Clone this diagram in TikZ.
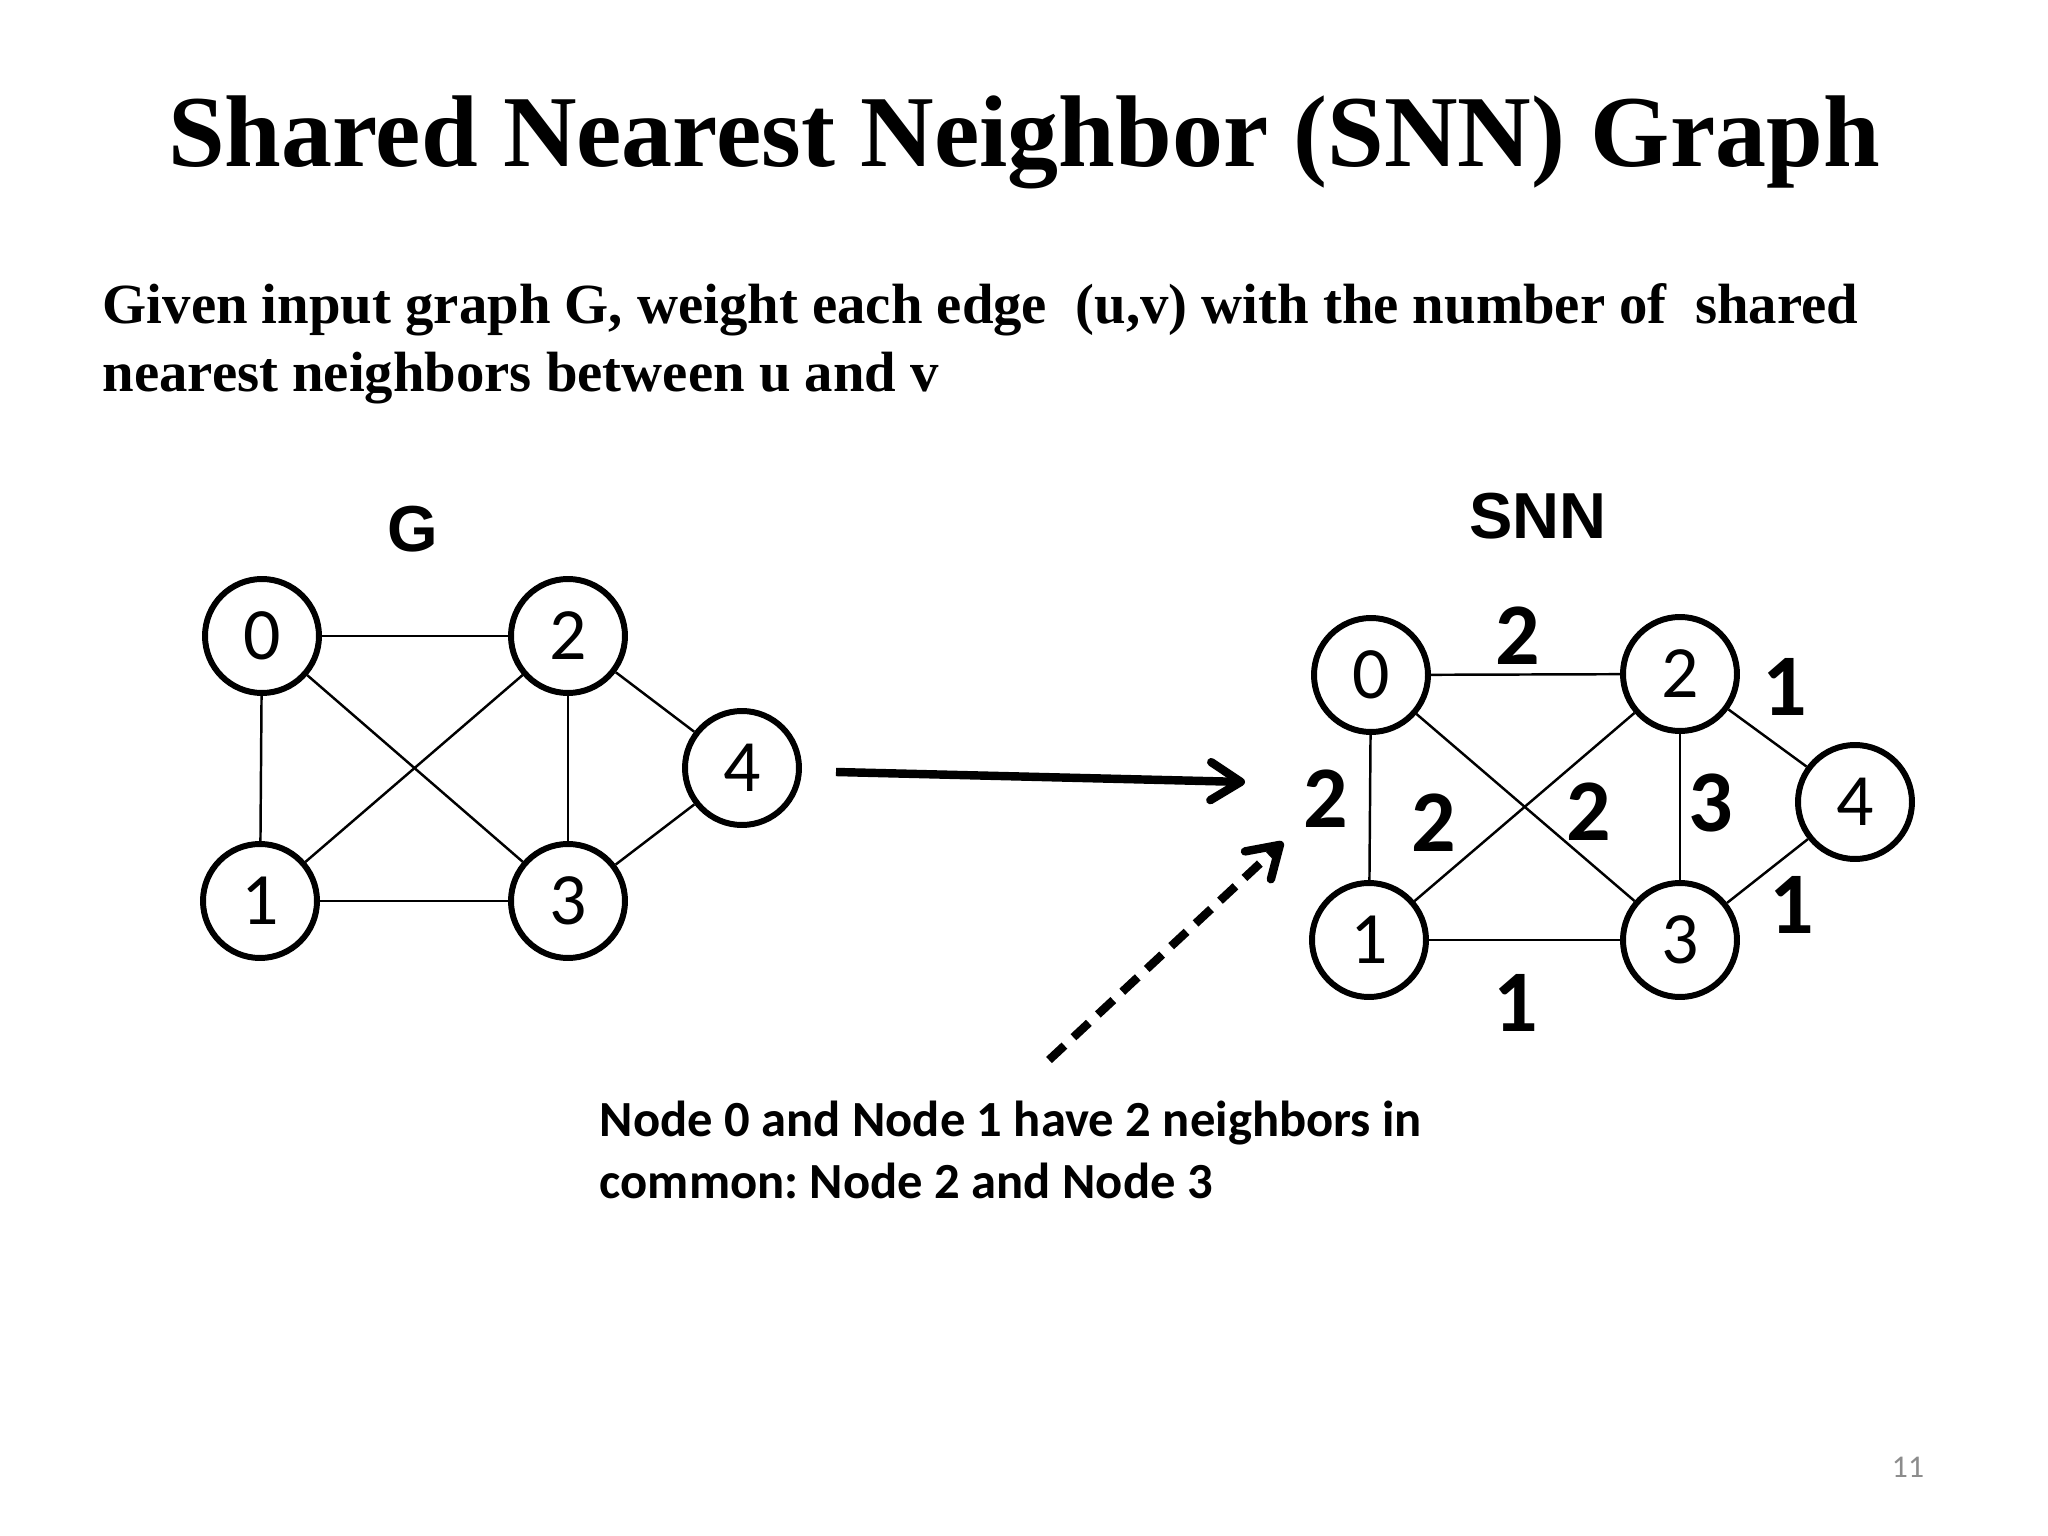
\documentclass[tikz,border=0pt]{standalone}
\usepackage{fontspec}
\setmainfont{Liberation Serif}
\newfontfamily\calibrifont{Carlito}
\newfontfamily\arialfont{Liberation Sans}
\usetikzlibrary{arrows.meta}
\frenchspacing

\begin{document}
\begin{tikzpicture}[x=1cm, y=1cm,
  vertex/.style={circle, draw, line width=1.7pt, minimum size=1.14cm, inner sep=0pt,
    font=\calibrifont\fontsize{21}{25}\selectfont},
  edge/.style={line width=0.7pt},
  weight/.style={inner sep=0pt, font=\calibrifont\bfseries\fontsize{25}{30}\selectfont},
  graphname/.style={inner sep=0pt, font=\arialfont\bfseries\fontsize{18.5}{22}\selectfont},
  bigarrow/.style={line width=2.4pt, -{Straight Barb[length=3mm, width=3.8mm, round]}}
]
  % slide 2048 x 1536 px -> 20.48 x 15.36 cm, origin top left
  \fill[white] (0,0) rectangle (20.48,-15.36);
  \useasboundingbox (0,0) rectangle (20.48,-15.36);

  % ---------------- title and statement ----------------
  \node[anchor=base, inner sep=0pt, font=\bfseries\fontsize{29}{35}\selectfont] (title)
    at (10.24,-1.67) {Shared Nearest Neighbor (SNN) Graph};
  \node[anchor=base west, align=left, inner sep=0pt,
    font=\bfseries\fontsize{16.15}{19.6}\selectfont] (intro) at (1.02,-3.92)
    {Given input graph G, weight each edge~ (u,v) with the number of~ shared\\
     nearest neighbors between u and v};

  % ---------------- input graph G ----------------
  \node[graphname] (nameG) at (4.13,-5.29) {G};
  \foreach \n/\x/\y in {0/2.62/-6.36, 2/5.68/-6.36, 4/7.42/-7.68, 1/2.60/-9.01, 3/5.68/-9.01} {
    \node[vertex] (g\n) at (\x,\y) {\n};
  }
  \foreach \a/\b in {0/2, 0/1, 0/3, 1/2, 2/3, 1/3, 2/4, 3/4} {
    \draw[edge] (g\a) -- (g\b);
  }

  % ---------------- SNN graph ----------------
  \node[graphname] (nameSNN) at (15.38,-5.16) {SNN};
  \foreach \n/\x/\y in {0/13.71/-6.75, 2/16.80/-6.74, 4/18.55/-8.02, 1/13.69/-9.40, 3/16.80/-9.40} {
    \node[vertex] (s\n) at (\x,\y) {\n};
  }
  \foreach \a/\b in {0/2, 0/1, 0/3, 1/2, 2/3, 1/3, 2/4, 3/4} {
    \draw[edge] (s\a) -- (s\b);
  }

  % shared neighbour counts
  \foreach \a/\b/\w/\x/\y in {0/2/2/15.18/-6.36, 2/4/1/17.85/-6.87, 0/1/2/13.26/-7.99,
      1/2/2/14.34/-8.23, 0/3/2/15.89/-8.12, 2/3/3/17.11/-8.03, 3/4/1/17.92/-9.05,
      1/3/1/15.16/-10.03} {
    \node[weight] (w\a\b) at (\x,\y) {\w};
  }

  % ---------------- arrows and note ----------------
  \coordinate (mapFrom) at (8.36,-7.72);
  \coordinate (mapTo) at (12.45,-7.82);
  \draw[bigarrow] (mapFrom) -- (mapTo);

  \node[anchor=base west, align=left, inner sep=0pt,
    font=\calibrifont\bfseries\fontsize{14.4}{17.4}\selectfont] (note) at (5.99,-11.98)
    {Node 0 and Node 1 have 2 neighbors in\\common: Node 2 and Node 3};
  \coordinate (noteFrom) at (10.49,-10.60);
  \coordinate (noteTo) at (12.83,-8.42);
  \draw[bigarrow, dash pattern=on 6pt off 3.5pt] (noteFrom) -- (noteTo);

  % page number
  \node[inner sep=0pt, text=black!45, font=\calibrifont\fontsize{9}{11}\selectfont] (page)
    at (19.08,-14.67) {11};
\end{tikzpicture}
\end{document}
